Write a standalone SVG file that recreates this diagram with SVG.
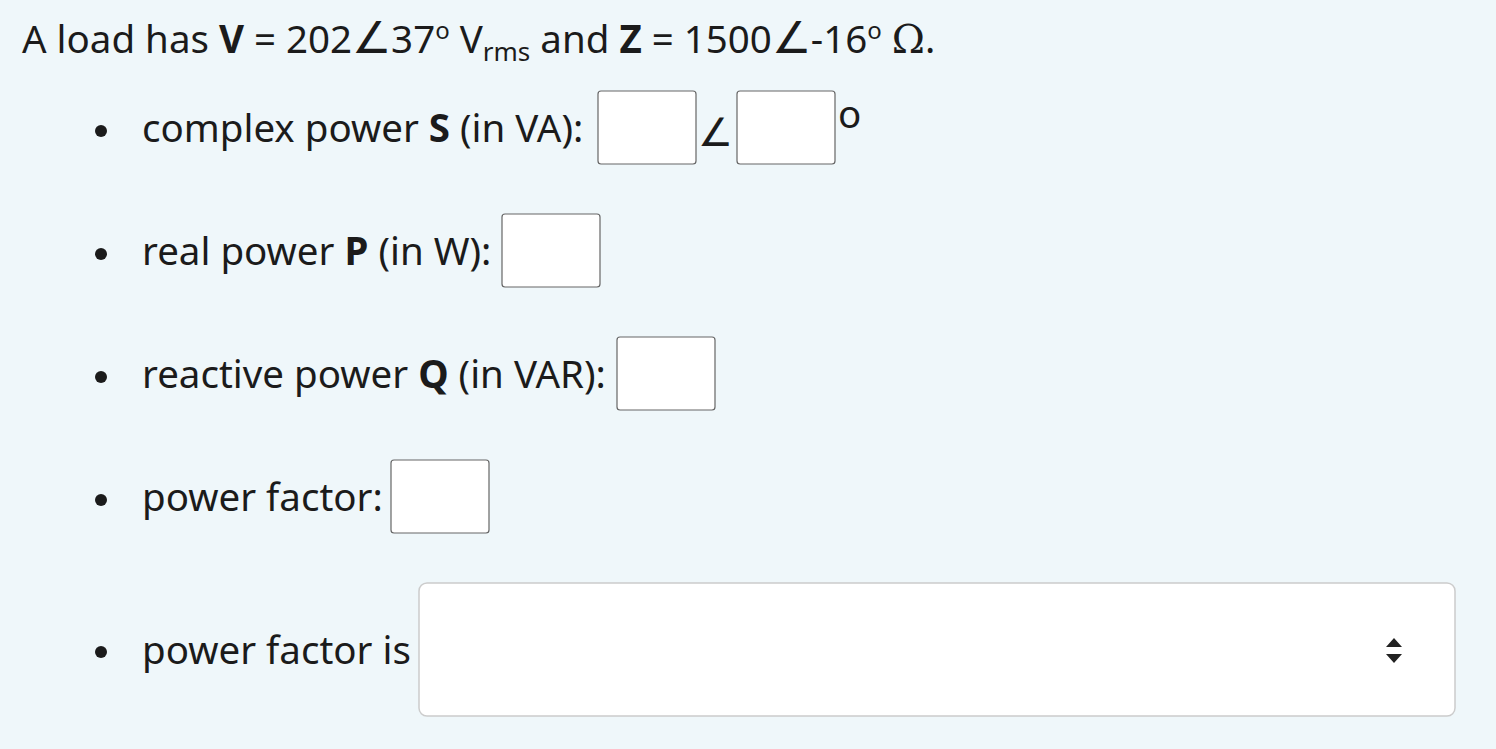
<svg xmlns="http://www.w3.org/2000/svg" width="1496" height="749" viewBox="0 0 1496 749">
<style>
text{font-family:"Noto Sans","Liberation Sans",sans-serif;font-size:38.5px;fill:#1b1b1b}
.b{font-weight:bold}
.box{fill:#fff;stroke:#666;stroke-width:1.2}
</style>
<rect width="1496" height="749" fill="#eff7fa"/>
<text x="22" y="53">A load has <tspan class="b">V</tspan> = 202<tspan font-size="44">∠</tspan>37<tspan font-size="24" dy="-14">o</tspan><tspan dy="14"> V</tspan><tspan font-size="26" dy="8">rms</tspan><tspan dy="-8"> and </tspan><tspan class="b">Z</tspan> = 1500<tspan font-size="44">∠</tspan>-16<tspan font-size="24" dy="-14">o</tspan><tspan dy="14"> </tspan><tspan font-family="DejaVu Serif,serif" font-size="40">Ω</tspan>.</text>
<g fill="#1b1b1b">
<circle cx="101" cy="131" r="6"/><circle cx="101" cy="254" r="6"/><circle cx="101" cy="377" r="6"/><circle cx="101" cy="500" r="6"/><circle cx="101" cy="652" r="6"/>
</g>
<g id="s"><text x="142" y="142">complex power <tspan class="b">S</tspan> (in VA):</text>
<rect class="box" x="598" y="91" width="98" height="73" rx="3"/>
<text x="698" y="146" font-size="40" fill="#666">∠</text>
<rect class="box" x="737" y="91" width="98" height="73" rx="3"/>
<text x="838" y="128" font-size="24">o</text></g>
<g id="p"><text x="142" y="265">real power <tspan class="b">P</tspan> (in W):</text>
<rect class="box" x="502" y="214" width="98" height="73" rx="3"/></g>
<g id="q"><text x="142" y="388">reactive power <tspan class="b">Q</tspan> (in VAR):</text>
<rect class="box" x="617" y="337" width="98" height="73" rx="3"/></g>
<g id="pf"><text x="142" y="511">power factor:</text>
<rect class="box" x="391" y="460" width="98" height="73" rx="3"/></g>
<g id="sel"><text x="142" y="664">power factor is</text>
<rect x="419" y="583" width="1036" height="133" rx="8" fill="#fff" stroke="#ccc" stroke-width="1.5"/>
<path d="M1386 647 L1394 638 L1402 647 Z M1386 654 L1394 663 L1402 654 Z" fill="#222"/></g>
</svg>
